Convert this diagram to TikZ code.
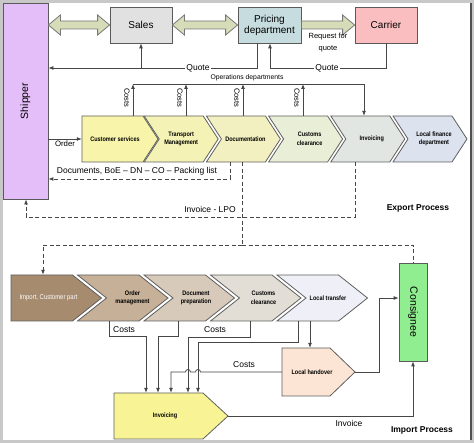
\documentclass[tikz,border=0pt]{standalone}
\usepackage{fontspec}
\setmainfont{Liberation Sans}
\newfontfamily\nb[FakeStretch=0.85]{Liberation Sans}
\usetikzlibrary{arrows.meta,calc}
\definecolor{framec}{RGB}{200,200,200}
\definecolor{framed}{RGB}{80,80,80}
\definecolor{boxline}{RGB}{90,90,90}
\definecolor{lnc}{RGB}{70,70,70}
\definecolor{chevl}{RGB}{95,95,95}
\definecolor{shipc}{RGB}{228,190,248}
\definecolor{salesc}{RGB}{225,225,225}
\definecolor{pricec}{RGB}{198,220,222}
\definecolor{carrc}{RGB}{250,190,192}
\definecolor{blkc}{RGB}{214,220,184}
\definecolor{blkl}{RGB}{120,120,120}
\definecolor{csc}{RGB}{248,245,170}
\definecolor{tmc}{RGB}{245,242,182}
\definecolor{docc}{RGB}{242,240,192}
\definecolor{ccc}{RGB}{233,238,214}
\definecolor{inec}{RGB}{226,230,227}
\definecolor{lfc}{RGB}{220,227,238}
\definecolor{icc}{RGB}{166,139,111}
\definecolor{omc}{RGB}{198,176,152}
\definecolor{dpc}{RGB}{216,202,186}
\definecolor{cicc}{RGB}{226,221,213}
\definecolor{ltc}{RGB}{239,240,247}
\definecolor{invc}{RGB}{248,244,150}
\definecolor{lhc}{RGB}{252,229,212}
\definecolor{consc}{RGB}{144,238,144}
\newcommand\dblarr[2]{\draw[blk] (#1) -- ($(#1)+(12,-10)$) -- ($(#1)+(12,-4)$) -- ($(#2)+(-12,-4)$) -- ($(#2)+(-12,-10)$) -- (#2) -- ($(#2)+(-12,10)$) -- ($(#2)+(-12,4)$) -- ($(#1)+(12,4)$) -- ($(#1)+(12,10)$) -- cycle;}
\newcommand\expchev[5]{% start, name, color, text offset, text
  \draw[chevline,fill=#3] (#1,116) -- ++(59,0) -- ++(15,23) -- ++(-15,23) -- ++(-59,0) -- ++(15,-23) -- cycle;
  \node[chevtxt,minimum height=46] (#2) at ({#1+#4},139) {#5};}
\newcommand\impchev[5]{% start, name, color, text offset, text
  \draw[chevline,fill=#3] (#1,275) -- ++(61.5,0) -- ++(29,23) -- ++(-29,23) -- ++(-61.5,0) -- ++(29,-23) -- cycle;
  \node[chevtxt,minimum height=46] (#2) at ({#1+#4},298) {#5};}
\begin{document}
\begin{tikzpicture}[x=1pt,y=-1pt,
  box/.style={draw=boxline,line width=0.8pt,inner sep=0pt},
  lbl/.style={font=\fontsize{8.5}{10}\selectfont,inner sep=1pt},
  slbl/.style={font=\fontsize{7.5}{9}\selectfont,inner sep=1pt},
  chevtxt/.style={font=\nb\bfseries\fontsize{6.5}{8.5}\selectfont,align=center,inner sep=0pt},
  conn/.style={draw=lnc,line width=0.8pt},
  arr/.style={-{Latex[length=5pt,width=4pt]}},
  dsh/.style={draw=lnc,line width=0.9pt,dash pattern=on 4pt off 2.5pt},
  chevline/.style={draw=chevl,line width=0.8pt},
  blk/.style={draw=blkl,fill=blkc,line width=0.8pt},
  bigtxt/.style={font=\fontsize{10}{12}\selectfont,align=center}]
\useasboundingbox (0,0) rectangle (474,443);
\fill[framec] (0,0) rectangle (474,443);
\fill[white] (3,3) rectangle (471,440);
\draw[framed,line width=1.2pt] (471,3) -- (471,440);

% ---------- top boxes ----------
\node[box,fill=shipc,minimum width=45,minimum height=196] (sh) at (25.5,101) {};
\node[font=\fontsize{10.5}{12}\selectfont,rotate=90] (shT) at (sh.center) {Shipper};
\node[box,fill=salesc,minimum width=62,minimum height=36,bigtxt] (sales) at (141,25) {Sales};
\node[box,fill=pricec,minimum width=63,minimum height=36,bigtxt] (pr) at (269.5,25) {Pricing\\[-1pt]department};
\node[box,fill=carrc,minimum width=62,minimum height=36,bigtxt] (ca) at (386,25) {Carrier};

% block arrows
\coordinate (ba1) at (sh.east |- sales.west);
\dblarr{ba1}{sales.west}
\dblarr{sales.east}{pr.west}
\draw[blk] ($(pr.east)+(0,-4)$) -- ($(ca.west)+(-12,-4)$) -- ($(ca.west)+(-12,-10)$) -- (ca.west) -- ($(ca.west)+(-12,10)$) -- ($(ca.west)+(-12,4)$) -- ($(pr.east)+(0,4)$) -- cycle;
\node[font=\fontsize{7.5}{12}\selectfont,align=center] (rq) at (328,43) {Request for\\quote};

% quote lines
\draw[conn,arr] (257,0 |- pr.south) |- (sh.east |- 0,68);
\coordinate (q1s) at (sales.south |- 0,68);
\draw[conn,arr] (q1s) -- (sales.south);
\node[lbl,fill=white] (q1) at (198,68) {Quote};
\draw[conn,arr] (ca.south) |- (270,68) -- (270,0 |- pr.south);
\node[lbl,fill=white] (q2) at (327,68) {Quote};

% ---------- export chevrons ----------
\draw[chevline,fill=csc] (82,116) -- ++(61,0) -- ++(15,23) -- ++(-15,23) -- ++(-61,0) -- cycle;
\node[chevtxt,minimum height=46,minimum width=66] (cs) at (115,139) {Customer services};
\expchev{144.2}{tm}{tmc}{37}{Transport\\Management}
\expchev{206.4}{doc}{docc}{39}{Documentation}
\expchev{268.6}{cc}{ccc}{41}{Customs\\clearance}
\expchev{330.8}{ine}{inec}{41}{Invoicing}
\expchev{393}{lf}{lfc}{41}{Local finance\\department}

% operations departments
\coordinate (op1) at (133,84);
\coordinate (op2) at (364,84);
\draw[conn] (op1) -- (op2);
\draw[conn,arr] (op2) -- (364,0 |- ine.north);
\draw[conn,arr] (133,0 |- cs.north) -- (op1);
\draw[conn,arr] (186,0 |- tm.north) -- (186,84);
\draw[conn,arr] (243,0 |- doc.north) -- (243,84);
\draw[conn,arr] (303,0 |- cc.north) -- (303,84);
\node[font=\fontsize{6.8}{8}\selectfont,inner sep=0pt] (opl) at (247,77.5) {Operations departments};
\node[slbl,rotate=-90] (ec1) at (127,98) {Costs};
\node[slbl,rotate=-90] (ec2) at (180,98) {Costs};
\node[slbl,rotate=-90] (ec3) at (237,98) {Costs};
\node[slbl,rotate=-90] (ec4) at (297,98) {Costs};

% order
\draw[conn,arr] (sh.east |- cs.west) -- (cs.west);
\node[font=\fontsize{7.8}{9}\selectfont] (ord) at (65,144) {Order};

% documents back to shipper
\draw[dsh,arr] (230,0 |- doc.south) |- (sh.east |- 0,179);
\node[lbl] (docl) at (137,171.5) {Documents, BoE -- DN -- CO -- Packing list};
% invoice LPO
\draw[dsh,arr] (355,0 |- ine.south) |- (26,217) -- (26,0 |- sh.south);
\node[lbl] (lpo) at (210,209) {Invoice - LPO};
\node[font=\bfseries\fontsize{8.5}{10}\selectfont] (exp) at (418,208) {Export Process};

% ---------- import chevrons ----------
\draw[chevline,fill=icc] (11,275) -- ++(61.5,0) -- ++(29,23) -- ++(-29,23) -- ++(-61.5,0) -- cycle;
\node[font=\nb\fontsize{7}{8.5}\selectfont,text=white,inner sep=0pt,minimum height=46] (ic) at (48.5,298) {Import, Customer part};
\impchev{77.5}{om}{omc}{55}{Order\\management}
\impchev{144}{dp}{dpc}{52}{Document\\preparation}
\impchev{210.5}{cic}{cicc}{53}{Customs\\clearance}
\impchev{277}{lt}{ltc}{51}{Local transfer}

% dashed from documentation to import
\coordinate (dj) at (242,245);
\draw[dsh] (242,0 |- doc.south) -- (dj);
\draw[dsh,arr] (dj) -| (43,0 |- ic.north);

% consignee
\node[box,fill=consc,minimum width=28,minimum height=98] (co) at (413,312) {};
\node[font=\fontsize{10.5}{12}\selectfont,rotate=-90] (coT) at (co.center) {Consignee};
\draw[dsh] (dj) -| (co.north);

% invoicing (import)
\draw[chevline,fill=invc] (114,393) -- (203,393) -- (228,416) -- (203,439) -- (114,439) -- cycle;
\node[chevtxt,minimum height=46,minimum width=102] (inv) at (165,416) {Invoicing};
\coordinate (invtip) at (228,416);

% local handover
\draw[chevline,fill=lhc] (282,348) -- (330,348) -- (355,372) -- (330,396) -- (282,396) -- cycle;
\node[chevtxt,minimum height=48,minimum width=60] (lh) at (312,372) {Local handover};
\coordinate (lhtip) at (355,372);

% import costs
\draw[conn,arr] (109,0 |- om.south) |- (146,336) -- (146,0 |- inv.north);
\draw[conn,arr] (178,0 |- dp.south) |- (158,336) -- (158,0 |- inv.north);
\draw[conn,arr] (250,0 |- cic.south) |- (188,337) -- (188,0 |- inv.north);
\draw[conn,arr] (298,0 |- lt.south) |- (198,342) -- (198,0 |- inv.north);
\draw[conn,arr] (310,0 |- lt.south) -- (310,0 |- lh.north);
\draw[conn,arr] (lh.west) -- (200.5,372) arc[start angle=0,end angle=180,radius=2.5pt] -- (190.5,372) arc[start angle=0,end angle=180,radius=2.5pt] -- (171,372) -- (171,0 |- inv.north);
\node[lbl] (ic1) at (124,330) {Costs};
\node[lbl] (ic2) at (215,330) {Costs};
\node[lbl] (ic3) at (244,365) {Costs};

% to consignee
\draw[conn,arr] (lhtip) -| (379,298) -- (co.west |- 0,298);
\draw[conn,arr] (invtip) -| (co.south);
\node[lbl] (invl) at (349,423) {Invoice};
\node[font=\bfseries\fontsize{8.5}{10}\selectfont] (imp) at (422,430) {Import Process};
\end{tikzpicture}
\end{document}
